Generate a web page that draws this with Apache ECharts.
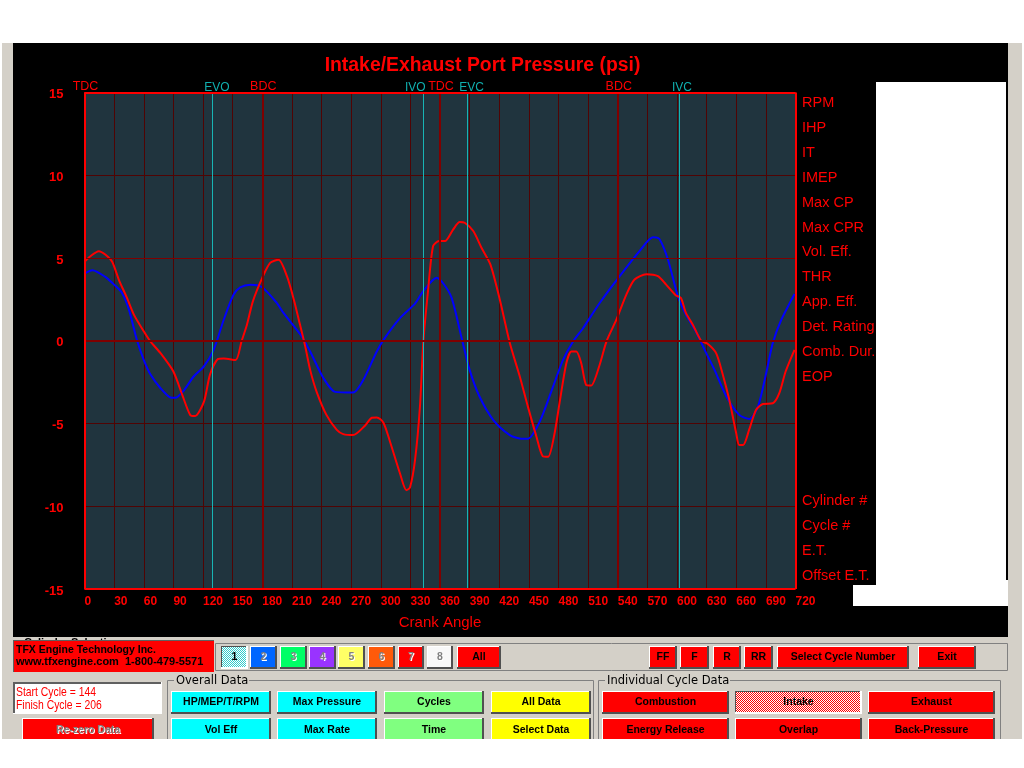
<!DOCTYPE html>
<html>
<head>
<meta charset="utf-8">
<title>Intake/Exhaust Port Pressure</title>
<script src="https://cdn.jsdelivr.net/npm/echarts@6/dist/echarts.min.js"></script>
<style>
html,body{margin:0;padding:0;background:#fff;}
#main{width:1024px;height:768px;}
</style>
</head>
<body>
<div id="main"></div>
<script>
// blue trace, crank angle (deg) and pressure (psi)
var blueAngles = [0,8,21,30,38,45,53,60,67,77,87,92,100.4,110.5,120.7,130.8,141,151,157.7,168,179.6,194.8,201.5,220,228.5,242,253.8,272,282.4,296,304,319.5,334.7,343,356.6,363,371.8,381.9,390,400,414,430.7,440.8,449,461,474.5,484.6,494.8,505,521.7,542,562,575.6,582,590.8,600.9,609,619,629.6,638,650,663,673.4,682,690.3,697,705.6,719];
var bluePsi = [4.06,4.26,3.86,3.39,2.89,1.88,0.06,-1.15,-2.06,-2.87,-3.43,-3.45,-3.01,-2.16,-1.56,-0.55,1.27,2.79,3.23,3.39,3.25,2.28,1.68,0.26,-0.65,-2.26,-3.09,-3.13,-2.36,-0.65,0.16,1.37,2.24,2.99,3.80,3.49,2.59,0.16,-1.76,-3.37,-4.79,-5.70,-5.90,-5.92,-4.89,-2.77,-1.15,-0.04,0.77,2.28,3.90,5.41,6.26,6.16,4.91,2.69,1.58,0.57,-0.75,-1.76,-3.37,-4.48,-4.73,-3.98,-1.96,-0.14,1.27,2.83];
// red trace
var redAngles = [0,6,14.5,21,28,34.7,43,50,60,66.7,77,90,99,107,112,121,127,135,141,153,159,164.5,170.5,180,188,196.5,205,212,217,223.5,228.5,235,245,255.5,262,272,284,291,296,302.7,309.4,319.5,326,329.6,334.7,339.7,343,348,353,359,365,373.4,380,385,393.7,402,411,420.6,430.7,440.8,449,457.7,464,469.5,476,481,488,493,498,503,508,513,521.7,528.6,538.6,548.7,557,569,580.7,589,599,604,609,616,624.5,631,639.6,646,653,660,663,667,673,680,687,697,703.6,710,719];
var redPsi = [4.77,5.11,5.41,5.21,4.77,3.70,2.59,1.58,0.57,-0.04,-0.75,-1.86,-3.27,-4.48,-4.55,-3.68,-2.06,-1.11,-1.07,-1.17,-0.04,0.97,2.38,3.80,4.71,4.89,3.90,2.48,1.27,-0.34,-1.76,-3.07,-4.48,-5.39,-5.64,-5.70,-5.13,-4.65,-4.63,-4.95,-6.10,-8.02,-9.03,-8.87,-7.21,-3.98,-0.14,3.09,5.72,6.02,6.02,6.73,7.17,7.13,6.63,5.62,4.61,2.48,-0.14,-2.16,-3.98,-5.80,-6.97,-7.01,-5.60,-3.78,-1.35,-0.65,-0.65,-1.35,-2.67,-2.71,-1.45,-0.04,1.27,2.79,3.70,4.02,3.90,3.39,2.73,2.59,1.68,0.97,0,-0.18,-0.75,-1.96,-3.58,-5.60,-6.30,-6.30,-5.39,-4.18,-3.82,-3.78,-3.17,-1.86,-0.55];
// valve events and dead centres
var valveNames = ['EVO','IVO','EVC','IVC'];
var valveAngles = [129,343,388,602];
var centreNames = ['TDC','BDC','TDC','BDC'];
var centreAngles = [0,180,360,540];
// side readouts
var readoutsTop = ['RPM','IHP','IT','IMEP','Max CP','Max CPR','Vol. Eff.','THR','App. Eff.','Det. Rating','Comb. Dur.','EOP'];
var readoutsBottom = ['Cylinder #','Cycle #','E.T.','Offset E.T.'];
// buttons
var cylinderLabels = ['1','2','3','4','5','6','7','8','All'];
var overallRow1 = ['HP/MEP/T/RPM','Max Pressure','Cycles','All Data'];
var overallRow2 = ['Vol Eff','Max Rate','Time','Select Data'];
var individualRow1 = ['Combustion','Intake','Exhaust'];
var individualRow2 = ['Energy Release','Overlap','Back-Pressure'];

var GREY = '#d4d0c8';
var RED = '#ff0000';
var chrome = [];

function dither(a, b) {
	var c = document.createElement('canvas');
	c.width = 2; c.height = 2;
	var g = c.getContext('2d');
	g.fillStyle = a; g.fillRect(0, 0, 2, 2);
	g.fillStyle = b; g.fillRect(0, 0, 1, 1); g.fillRect(1, 1, 1, 1);
	return {image: c, repeat: 'repeat'};
}
function box(x, y, w, h, fill, z) {
	chrome.push({type: 'rect', silent: true, z: z, shape: {x: x, y: y, width: w, height: h}, style: {fill: fill}});
}
function outline(x, y, w, h, stroke, z) {
	chrome.push({type: 'rect', silent: true, z: z, shape: {x: x + 0.5, y: y + 0.5, width: w, height: h}, style: {fill: null, stroke: stroke, lineWidth: 1}});
}
function text(x, y, s, color, font, align, z, sx) {
	chrome.push({type: 'text', silent: true, z: z, x: x, y: y, scaleX: sx || 1, style: {text: s, fill: color, font: font, textAlign: align || 'left', textVerticalAlign: 'middle'}});
}
var BTN_FONT = 'bold 10.5px "Liberation Sans"';
function button(x, y, w, h, s, fill, opt) {
	opt = opt || {};
	var hi = opt.sunken ? '#505050' : '#ffffff', lo = opt.sunken ? '#ffffff' : '#505050';
	box(x, y, w, h, lo, 10);
	box(x, y, w - 2, h - 2, hi, 11);
	box(x + 1, y + 1, w - 3, h - 3, fill, 12);
	var cx = x + w / 2, cy = y + h / 2;
	if (opt.faded) {
		text(cx + 1, cy + 1, s, '#ffffff', BTN_FONT, 'center', 13);
		text(cx, cy, s, '#808080', BTN_FONT, 'center', 14);
	} else {
		text(cx, cy, s, '#000000', BTN_FONT, 'center', 14);
	}
}

// window background
box(2, 43, 1020, 696, GREY, -5);
box(13, 43, 995, 594, '#000000', -4);

// side readouts, the white box is put over them afterwards
for (var i = 0; i < readoutsTop.length; i++) {
	text(802, 103 + i * 24.9, readoutsTop[i], RED, '14.5px "Liberation Sans"', 'left', 3);
}
for (i = 0; i < readoutsBottom.length; i++) {
	text(802, 501 + i * 25, readoutsBottom[i], RED, '14.5px "Liberation Sans"', 'left', 3);
}
box(876, 82, 130, 503, '#ffffff', 4);
box(853, 585, 155, 21, '#ffffff', 4);
box(876, 580, 132, 5, '#ffffff', 4);

// cylinder row
text(24, 643, 'Cylinder Selection', '#000000', 'bold 11px "Liberation Sans"', 'left', 3);
outline(215, 643, 792, 27, '#808080', 3);
box(13, 640, 201, 32, '#606060', 5);
box(14, 641, 200, 31, RED, 6);
text(16, 650, 'TFX Engine Technology Inc.', '#000000', BTN_FONT, 'left', 7);
text(16, 662, 'www.tfxengine.com  1-800-479-5571', '#000000', 'bold 11px "Liberation Sans"', 'left', 7);

var cylFills = [dither('#ffffff', '#33cccc'), '#0066ff', '#00ff66', '#9933ff', '#ffff66', '#ff5a0a', RED, '#f8f8f8', RED];
var cylX = [221, 250, 280, 309, 338, 368, 398, 427, 457];
var cylW = [27, 27, 27, 27, 27, 27, 26, 26, 44];
for (i = 0; i < cylinderLabels.length; i++) {
	button(cylX[i], 646, cylW[i], 23, cylinderLabels[i], cylFills[i], {sunken: i == 0, faded: i > 0 && i < 8});
}
button(649, 646, 28, 23, 'FF', RED);
button(680, 646, 29, 23, 'F', RED);
button(713, 646, 28, 23, 'R', RED);
button(744, 646, 29, 23, 'RR', RED);
button(777, 646, 132, 23, 'Select Cycle Number', RED);
button(918, 646, 58, 23, 'Exit', RED);

// cycle range
box(13, 682, 149, 32, '#ffffff', 5);
box(13, 682, 148, 31, '#606060', 6);
box(15, 684, 146, 29, '#ffffff', 7);
text(16, 692, 'Start Cycle = 144', RED, '13px "Liberation Sans"', 'left', 8, 0.8);
text(16, 705, 'Finish Cycle = 206', RED, '13px "Liberation Sans"', 'left', 8, 0.8);
button(22, 718, 132, 24, 'Re-zero Data', RED, {faded: true});

// group frames
outline(167, 680, 426, 70, '#808080', 3);
outline(598, 680, 402, 70, '#808080', 3);
box(174, 675, 75, 12, GREY, 4);
box(605, 675, 125, 12, GREY, 4);
text(176, 681, 'Overall Data', '#000000', '11.5px "DejaVu Sans"', 'left', 5);
text(607, 681, 'Individual Cycle Data', '#000000', '11.5px "DejaVu Sans"', 'left', 5);

var overallX = [171, 277, 384, 491];
var overallFills = ['#00ffff', '#00ffff', '#80ff80', '#ffff00'];
for (i = 0; i < overallRow1.length; i++) {
	button(overallX[i], 691, 100, 23, overallRow1[i], overallFills[i]);
	button(overallX[i], 718, 100, 24, overallRow2[i], overallFills[i]);
}
var indX = [602, 735, 868];
for (i = 0; i < individualRow1.length; i++) {
	button(indX[i], 691, 127, 23, individualRow1[i], i == 1 ? dither('#ffffff', RED) : RED, {sunken: i == 1});
	button(indX[i], 718, 127, 24, individualRow2[i], RED);
}
// screenshot ends here
box(0, 739, 1024, 29, '#ffffff', 20);

function pairs(xs, ys) {
	var out = [];
	for (var k = 0; k < xs.length; k++) out.push([xs[k], ys[k]]);
	return out;
}
var EVENT_LABEL = {fontFamily: 'Liberation Sans', show: true, position: 'end', distance: 0};
var markerLines = [];
for (i = 0; i < centreAngles.length; i++) {
	markerLines.push({
		xAxis: centreAngles[i],
		lineStyle: {color: '#800000', width: 2, type: 'solid'},
		label: Object.assign({}, EVENT_LABEL, {formatter: centreNames[i], color: RED, fontSize: 12.5, offset: [1, 1]})
	});
}
var valveOffset = [5, -8, 4, 3];
for (i = 0; i < valveAngles.length; i++) {
	markerLines.push({
		xAxis: valveAngles[i],
		lineStyle: {color: '#18b4b4', width: 1, type: 'solid'},
		label: Object.assign({}, EVENT_LABEL, {formatter: valveNames[i], color: '#10b0b0', fontSize: 12, offset: [valveOffset[i], 1]})
	});
}
var noLabel = {show: false};
markerLines.push({yAxis: 5, lineStyle: {color: '#800000', width: 1, type: 'solid'}, label: noLabel});
markerLines.push({yAxis: 0, lineStyle: {color: '#800000', width: 2, type: 'solid'}, label: noLabel});
// plot frame
markerLines.push({yAxis: 15, lineStyle: {color: RED, width: 2, type: 'solid'}, label: noLabel});
markerLines.push({yAxis: -15, lineStyle: {color: RED, width: 2, type: 'solid'}, label: noLabel});
markerLines.push({xAxis: 0, lineStyle: {color: RED, width: 2, type: 'solid'}, label: noLabel});
markerLines.push({xAxis: 720, lineStyle: {color: RED, width: 2, type: 'solid'}, label: noLabel});

var myChart = echarts.init(document.getElementById('main'));
var option = {
	animation: false,
	backgroundColor: '#ffffff',
	title: {
		text: 'Intake/Exhaust Port Pressure (psi)',
		left: 477.5,
		top: 51,
		textAlign: 'center',
		textStyle: {color: RED, fontFamily: 'Liberation Sans', fontSize: 19.4, fontWeight: 'bold'}
	},
	grid: {left: 84.5, top: 92.5, width: 711, height: 496.5, show: true, backgroundColor: '#20343e', borderWidth: 0},
	xAxis: {
		type: 'value',
		min: 0,
		max: 720,
		interval: 30,
		name: 'Crank Angle',
		nameLocation: 'middle',
		nameGap: 26,
		nameTextStyle: {color: RED, fontFamily: 'Liberation Sans', fontSize: 15},
		axisLine: {show: false},
		axisTick: {show: false},
		axisLabel: {color: RED, fontFamily: 'Liberation Sans', fontSize: 12, fontWeight: 'bold', align: 'left', margin: 7, showMinLabel: true, showMaxLabel: true},
		splitLine: {show: true, lineStyle: {color: '#500404', width: 1}}
	},
	yAxis: {
		type: 'value',
		min: -15,
		max: 15,
		interval: 5,
		axisLine: {show: false},
		axisTick: {show: false},
		axisLabel: {color: RED, fontFamily: 'Liberation Sans', fontSize: 13, fontWeight: 'bold', margin: 21, verticalAlign: 'top', lineHeight: 4},
		splitLine: {show: true, lineStyle: {color: '#500404', width: 1}}
	},
	series: [
		{
			type: 'line',
			data: [],
			clip: false,
			z: 1,
			markLine: {silent: true, symbol: 'none', animation: false, data: markerLines}
		},
		{type: 'line', data: pairs(blueAngles, bluePsi), showSymbol: false, smooth: 0.25, lineStyle: {color: '#0000ff', width: 2}, z: 2},
		{type: 'line', data: pairs(redAngles, redPsi), showSymbol: false, smooth: 0.25, lineStyle: {color: RED, width: 2}, z: 3}
	],
	graphic: {elements: chrome}
};
myChart.setOption(option);
</script>
</body>
</html>
